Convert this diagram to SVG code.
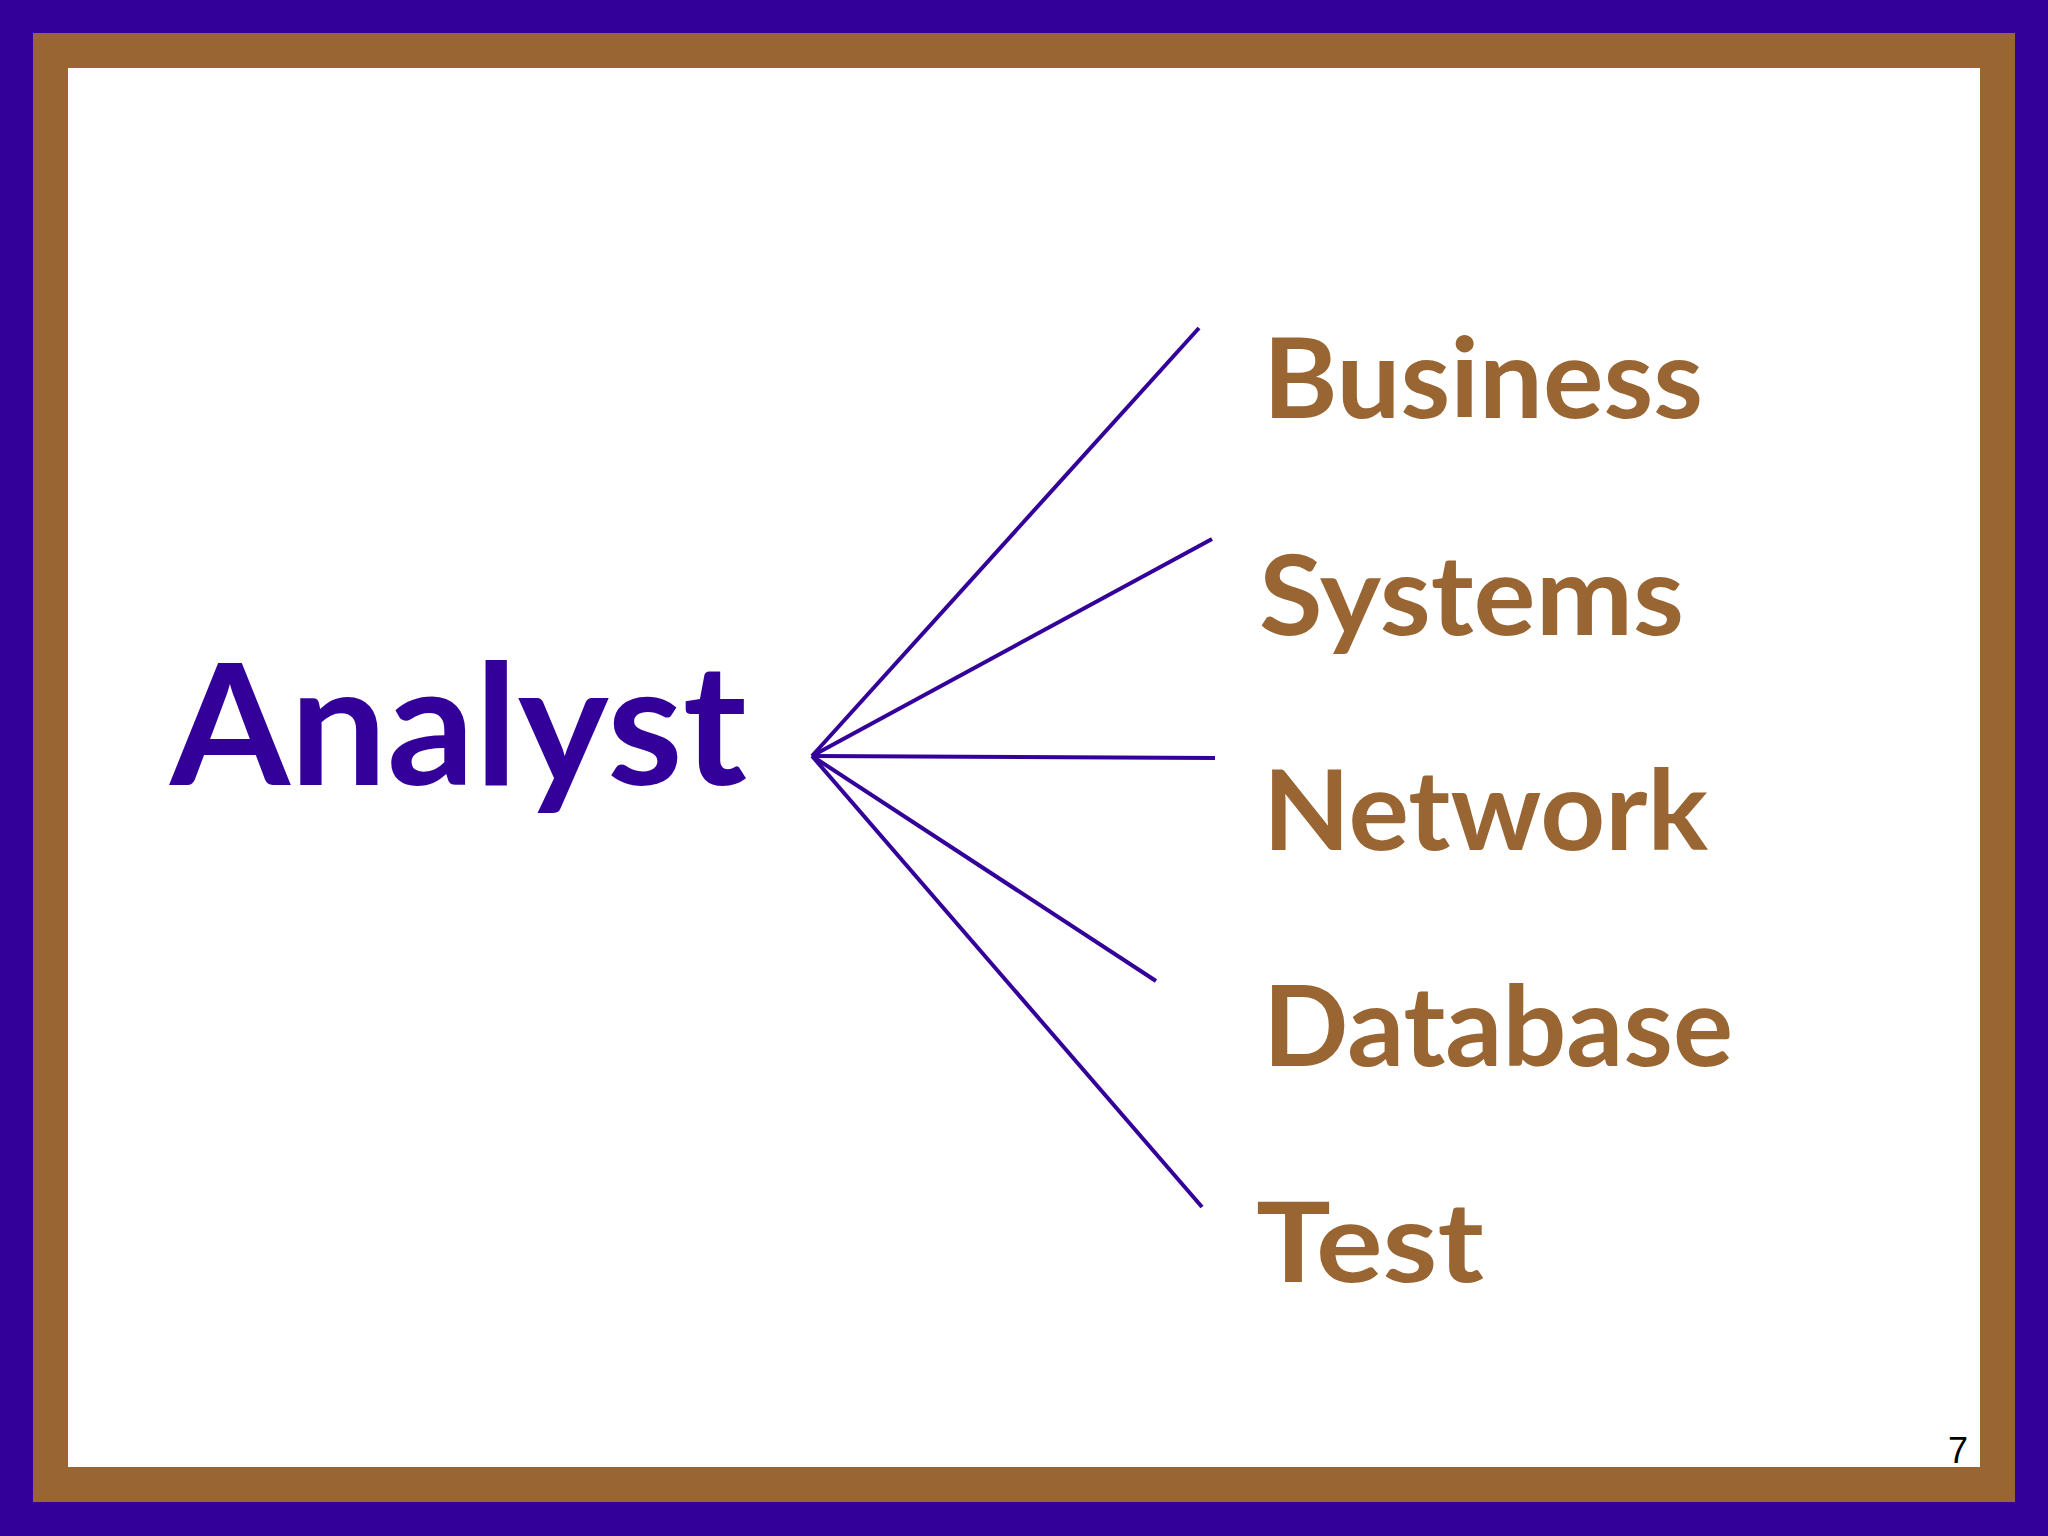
<svg xmlns="http://www.w3.org/2000/svg" width="2048" height="1536" viewBox="0 0 2048 1536">
<style>
.lbl{font-family:"Lato","Open Sans",sans-serif;font-weight:bold;fill:#996633;font-size:112px}
.ln{stroke:#330099;stroke-width:4;fill:none}
</style>
<rect width="2048" height="1536" fill="#330099"/>
<rect x="33" y="33" width="1982" height="1469" fill="#996633"/>
<rect x="68" y="68" width="1912" height="1399" fill="#ffffff"/>
<g id="analyst"><text x="170" y="785" font-family="Lato,'Open Sans',sans-serif" font-weight="bold" font-size="168" fill="#330099" textLength="577" lengthAdjust="spacingAndGlyphs">Analyst</text></g>
<g id="connectors">
<line class="ln" x1="812" y1="756" x2="1199" y2="328"/>
<line class="ln" x1="812" y1="756" x2="1212" y2="539"/>
<line class="ln" x1="812" y1="756" x2="1215" y2="758"/>
<line class="ln" x1="812" y1="756" x2="1156" y2="981"/>
<line class="ln" x1="812" y1="756" x2="1202" y2="1207"/>
</g>
<g id="business"><text class="lbl" x="1263" y="418" textLength="440" lengthAdjust="spacingAndGlyphs">Business</text></g>
<g id="systems"><text class="lbl" x="1259" y="635" textLength="425" lengthAdjust="spacingAndGlyphs">Systems</text></g>
<g id="network"><text class="lbl" x="1263" y="850" textLength="445" lengthAdjust="spacingAndGlyphs">Network</text></g>
<g id="database"><text class="lbl" x="1263" y="1066" textLength="470" lengthAdjust="spacingAndGlyphs">Database</text></g>
<g id="test"><text class="lbl" x="1256" y="1282" textLength="228" lengthAdjust="spacingAndGlyphs">Test</text></g>
<text x="1948" y="1463" font-family="Liberation Sans,sans-serif" font-size="36" fill="#000">7</text>
</svg>
